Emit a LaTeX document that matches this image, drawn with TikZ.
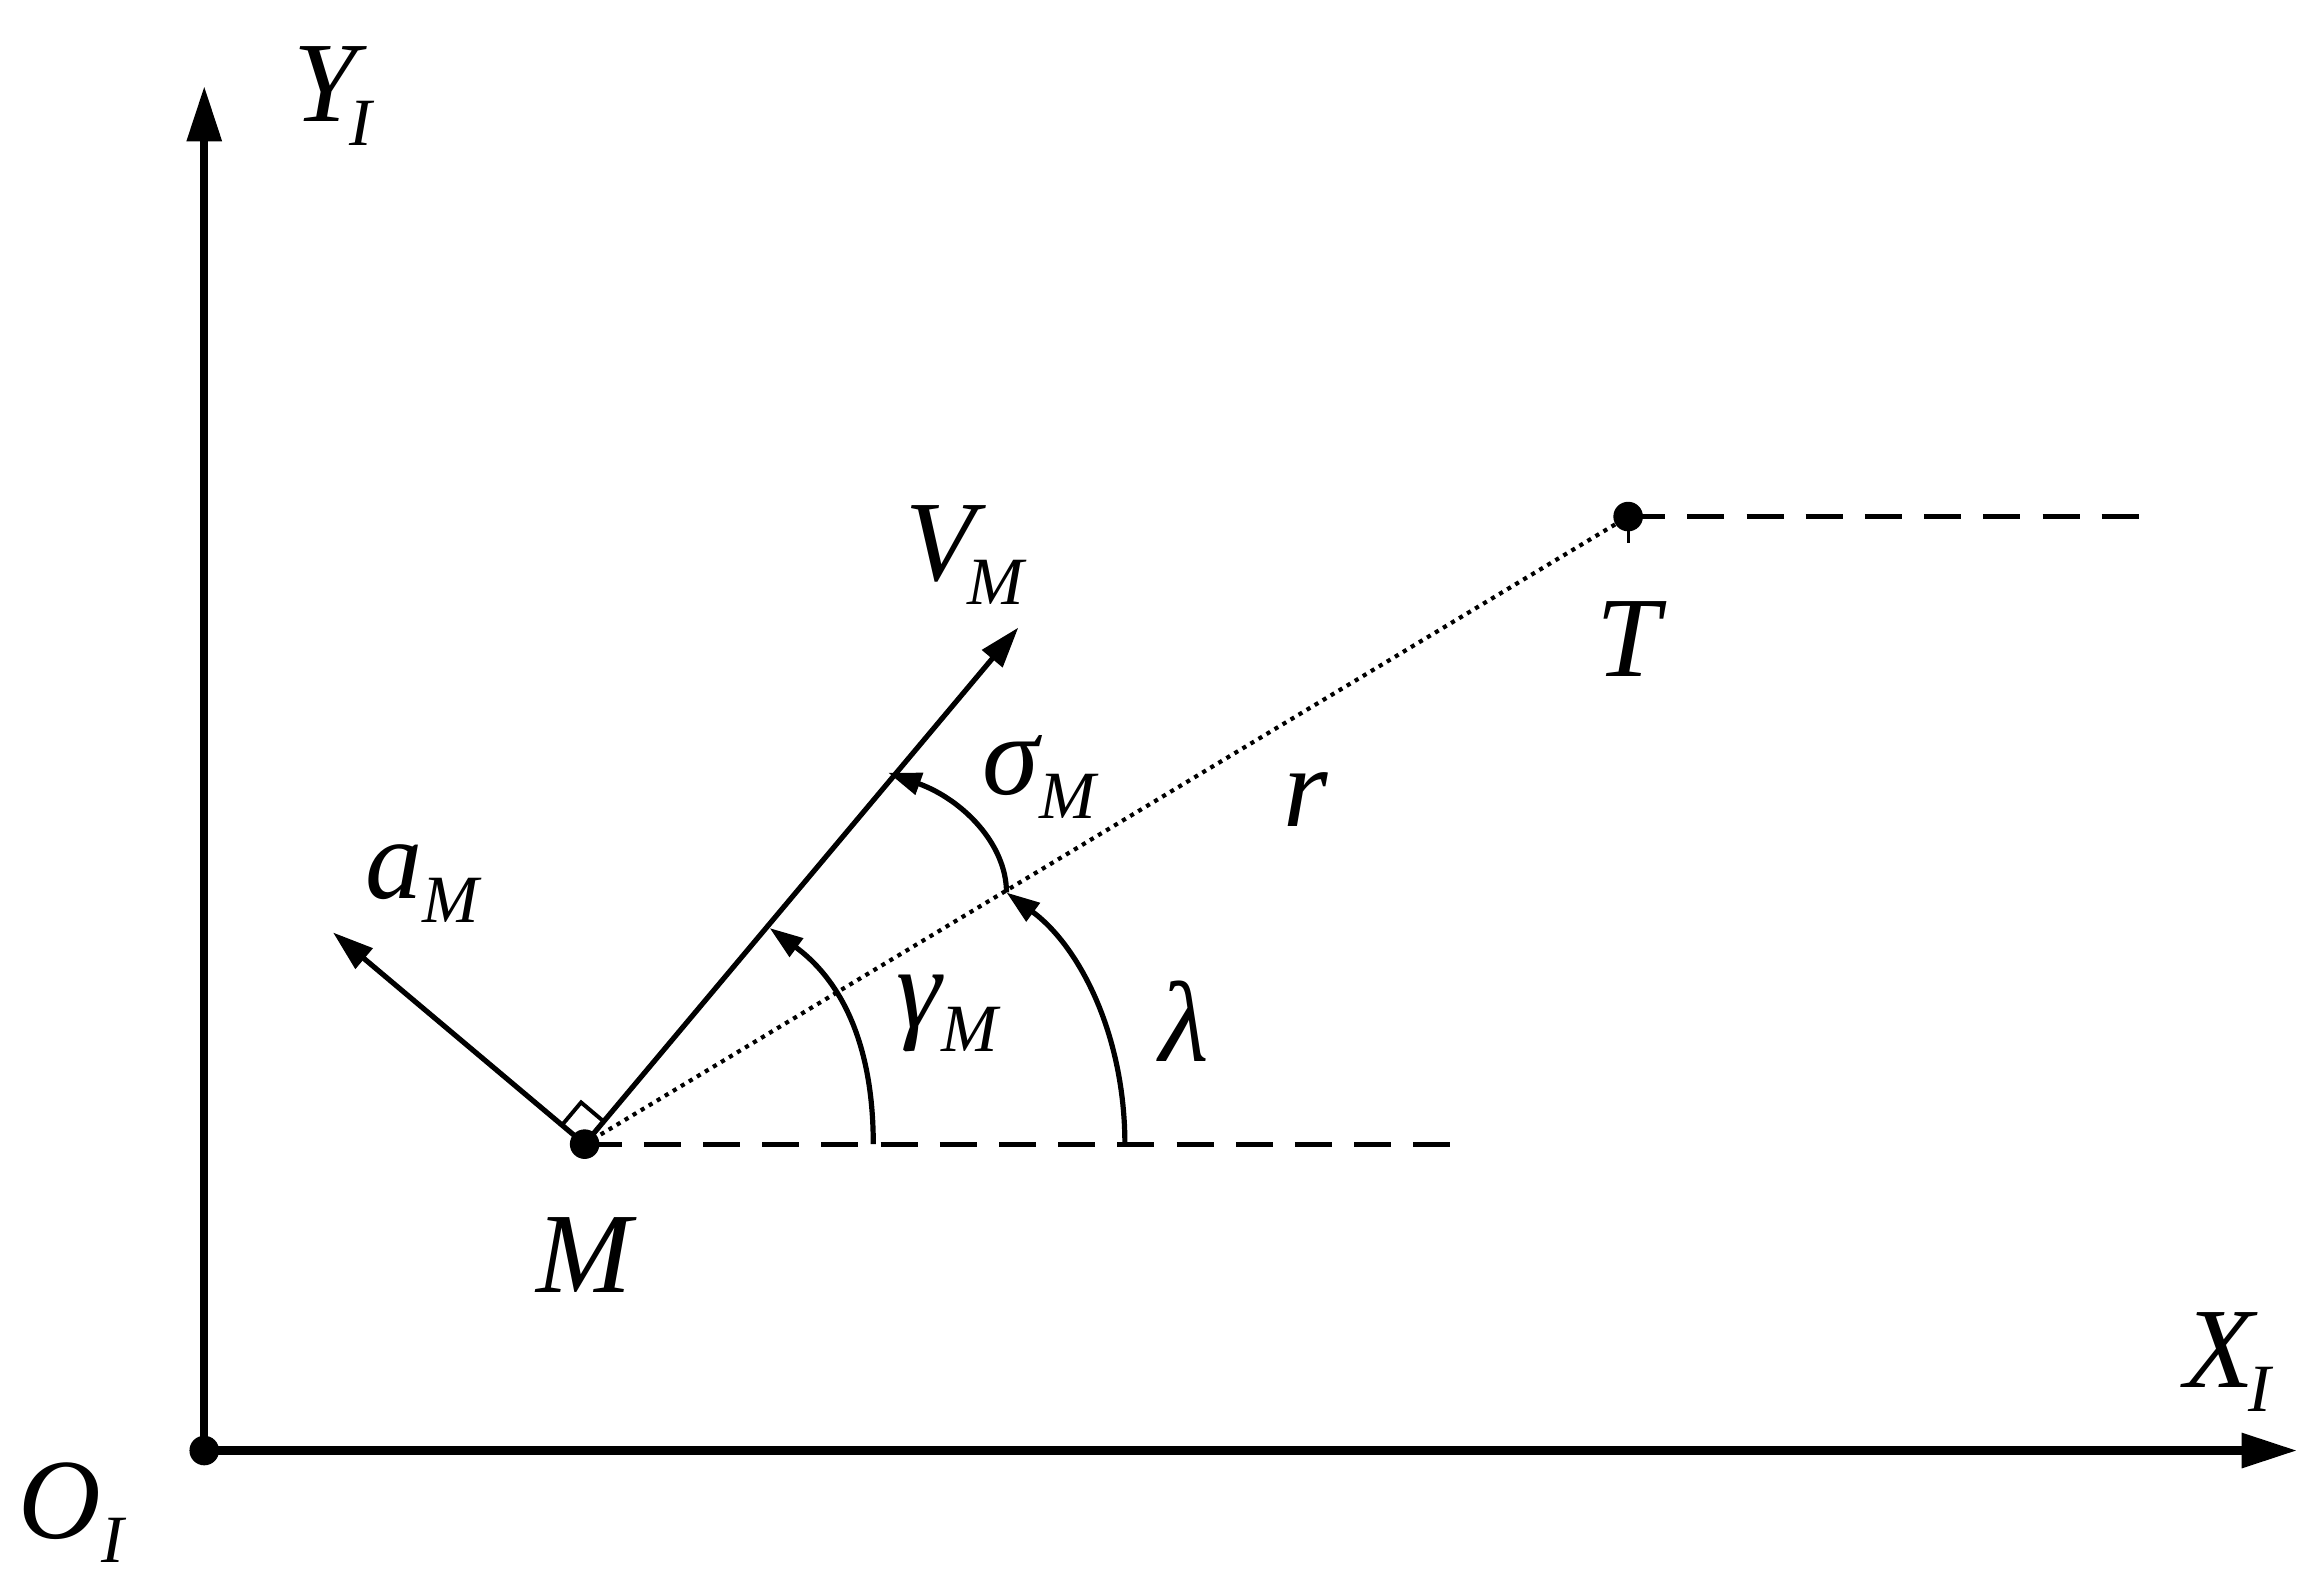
\documentclass[tikz,border=0pt]{standalone}
\usepackage{fontspec}
\setmainfont{Liberation Serif}
\usetikzlibrary{arrows.meta}
\newcommand\sbx[1]{\raisebox{-0.45ex}{\fontsize{26}{28}\selectfont #1}}
\begin{document}
\begin{tikzpicture}[x=0.02cm,y=-0.02cm,
  axis/.style={line width=3.2pt,-{Triangle[length=0.75cm,width=0.45cm]}},
  vec/.style={line width=2pt,-{Triangle[length=0.55cm,width=0.35cm]}},
  arc/.style={line width=2pt,-{Triangle[length=0.45cm,width=0.3cm]}},
  lbl/.style={font=\fontsize{44}{48}\selectfont\itshape},
  dsh/.style={line width=2pt,dash pattern=on 0.5cm off 0.3cm},
  dot/.style={circle,fill,inner sep=0pt,minimum size=0.4cm}]
\useasboundingbox (0,0) rectangle (1560,1068);
\node[dot] (O) at (138,980) {};
\coordinate (Ytip) at (138,58);
\coordinate (Xtip) at (1552,980);
\draw[axis] (O.center) -- (Ytip);
\draw[axis] (O.center) -- (Xtip);
\node[dot] (M) at (395,773) {};
\node[dot] (T) at (1100,349) {};
\coordinate (Me) at (990,773);
\coordinate (Te) at (1450,349);
\coordinate (V) at (688,424);
\coordinate (A) at (225,630);
\draw[dsh] (M.center) -- (Me);
\draw[dsh] (T.center) -- (Te);
\draw[line width=1.6pt,dotted] (M.center) -- (T.center);
\draw[vec] (M.center) -- (V);
\draw[vec] (M.center) -- (A);
\coordinate (r1) at (407.9,757.7);
\coordinate (r2) at (392.6,744.8);
\coordinate (r3) at (379.7,760.1);
\draw[line width=1.5pt] (r1) -- (r2) -- (r3);
\coordinate (g0) at (590,773); \coordinate (g1) at (520,627);
\coordinate (l0) at (760,773); \coordinate (l1) at (680,603);
\coordinate (s1) at (600,522);
\draw[arc] (g0) .. controls (590,700) and (565,660) .. (g1);
\draw[arc] (l0) .. controls (760,700) and (730,640) .. (l1);
\draw[arc] (l1) .. controls (680,570) and (650,540) .. (s1);
\draw[line width=1.2pt] (T.center) -- ++(0,18);
\node[lbl] (Yl) at (225,65) {Y\kern-3pt\sbx{I}};
\node[lbl] (Xl) at (1505,920) {X\kern-2pt\sbx{I}};
\node[lbl] (Ol) at (48,1022) {O\sbx{I}};
\node[lbl] (Vl) at (652,375) {V\kern-3pt\sbx{M}};
\node[lbl] (Tl) at (1100,432) {T};
\node[lbl] (rl) at (882,540) {r};
\node[lbl] (sl) at (702,525) {σ\sbx{M}};
\node[lbl] (al) at (285,597) {a\sbx{M}};
\node[lbl] (gl) at (640,685) {γ\sbx{M}};
\node[lbl] (ll) at (800,690) {λ};
\node[lbl] (Ml) at (395,848) {M};
\end{tikzpicture}
\end{document}
